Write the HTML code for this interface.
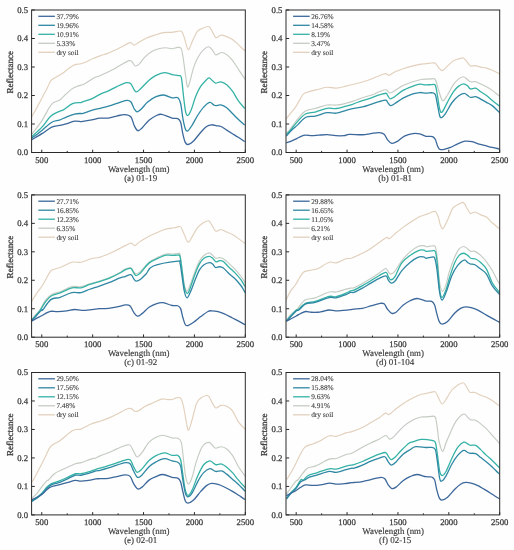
<!DOCTYPE html>
<html><head><meta charset="utf-8"><style>
html,body{margin:0;padding:0;background:#fefefe;}
svg{display:block;filter:blur(0.3px);}
text{font-family:"Liberation Serif",serif;fill:#3a3a3a;stroke:#3a3a3a;stroke-width:0.15px;text-rendering:geometricPrecision;}
.tk{font-size:8.7px;stroke-width:0.25px;}
.lb{font-size:9.05px;stroke-width:0.3px;}
.xl{font-size:8.9px;}
.cp{font-size:9.0px;}
.lg{stroke-width:0.1px;}
.lg{font-size:7.3px;}
</style></head><body>
<svg width="514" height="550" viewBox="0 0 514 550">
<clipPath id="cp0"><rect x="31.6" y="10.0" width="213.70000000000002" height="142.5"/></clipPath>
<g clip-path="url(#cp0)" fill="none" stroke-width="1.3" stroke-linejoin="round">
<path d="M31.82,116.70 C32.78,114.98 35.02,111.07 37.55,106.38 C40.08,101.68 44.75,92.86 47.00,88.52 C49.26,84.18 49.53,82.26 51.09,80.35 C52.65,78.44 54.30,78.35 56.34,77.08 C58.39,75.82 61.21,74.26 63.35,72.76 C65.49,71.26 67.24,69.46 69.18,68.09 C71.13,66.73 73.07,65.31 75.02,64.59 C76.96,63.87 78.91,64.26 80.86,63.77 C82.80,63.29 84.75,62.51 86.69,61.67 C88.64,60.84 90.31,59.73 92.53,58.75 C94.75,57.78 97.59,56.69 100.00,55.84 C102.41,54.98 104.67,54.50 107.00,53.62 C109.34,52.74 111.67,51.59 114.01,50.54 C116.34,49.49 118.33,48.62 121.01,47.32 C123.70,46.01 127.90,43.04 130.12,42.69 C132.33,42.34 132.92,45.26 134.32,45.21 C135.72,45.17 136.54,43.58 138.52,42.41 C140.51,41.25 143.54,39.42 146.23,38.21 C148.91,37.00 151.83,36.06 154.63,35.13 C157.43,34.19 160.14,33.07 163.04,32.61 C165.93,32.14 169.79,32.50 172.00,32.33 C174.21,32.16 174.76,31.77 176.32,31.60 C177.88,31.43 180.04,30.35 181.36,31.31 C182.68,32.27 183.11,34.31 184.24,37.35 C185.37,40.40 186.80,48.87 188.12,49.59 C189.44,50.31 190.64,44.67 192.16,41.67 C193.67,38.67 195.51,33.80 197.19,31.60 C198.87,29.39 200.31,29.27 202.23,28.43 C204.15,27.59 207.03,26.03 208.71,26.56 C210.39,27.08 211.11,29.75 212.31,31.60 C213.51,33.44 214.47,37.04 215.91,37.64 C217.35,38.24 219.15,35.36 220.95,35.19 C222.75,35.03 224.79,35.91 226.71,36.63 C228.63,37.35 230.55,38.19 232.47,39.51 C234.39,40.83 236.31,42.80 238.23,44.55 C240.15,46.30 242.69,48.94 243.98,50.02 C245.28,51.10 245.66,50.86 246.00,51.03" stroke="#e2d0bc" stroke-width="1.15"/>
<path d="M31.82,134.16 C33.50,131.90 39.05,124.93 41.92,120.57 C44.78,116.21 47.19,110.92 49.01,108.01 C50.83,105.10 51.03,104.44 52.83,103.10 C54.64,101.76 57.70,101.42 59.84,99.96 C61.99,98.50 63.74,96.17 65.68,94.36 C67.63,92.55 69.57,90.47 71.52,89.11 C73.46,87.74 75.41,86.96 77.35,86.19 C79.30,85.41 81.25,85.31 83.19,84.44 C85.14,83.56 87.08,82.10 89.03,80.93 C90.97,79.77 93.04,78.31 94.86,77.43 C96.69,76.56 97.98,76.50 100.00,75.68 C102.02,74.86 104.67,73.64 107.00,72.53 C109.34,71.42 111.67,70.31 114.01,69.03 C116.34,67.74 118.44,66.23 121.01,64.82 C123.58,63.42 127.55,61.09 129.42,60.62 C131.28,60.16 131.24,61.14 132.22,62.02 C133.20,62.91 134.13,65.60 135.30,65.95 C136.47,66.30 137.63,65.60 139.22,64.12 C140.81,62.65 142.72,59.22 144.82,57.12 C146.93,55.02 149.49,52.92 151.83,51.52 C154.16,50.12 156.50,49.35 158.83,48.72 C161.17,48.09 163.64,47.74 165.84,47.74 C168.03,47.74 170.01,48.77 172.00,48.72 C173.99,48.67 176.20,47.41 177.76,47.43 C179.32,47.46 180.40,46.71 181.36,48.87 C182.32,51.03 182.80,55.83 183.52,60.39 C184.24,64.95 184.91,71.80 185.68,76.23 C186.44,80.65 186.80,88.36 188.12,86.92 C189.44,85.48 191.96,72.49 193.60,67.59 C195.23,62.69 196.35,60.39 197.91,57.51 C199.47,54.63 201.15,52.11 202.95,50.31 C204.75,48.51 207.03,46.59 208.71,46.71 C210.39,46.83 211.83,49.66 213.03,51.03 C214.23,52.40 214.47,54.68 215.91,54.92 C217.35,55.16 219.87,52.52 221.67,52.47 C223.47,52.42 224.91,53.31 226.71,54.63 C228.51,55.95 230.55,57.99 232.47,60.39 C234.39,62.79 236.31,66.15 238.23,69.03 C240.15,71.91 242.69,75.75 243.98,77.67 C245.28,79.58 245.66,80.06 246.00,80.54" stroke="#c4ccc2" stroke-width="1.15"/>
<path d="M31.82,136.63 C33.50,135.04 38.78,130.52 41.92,127.12 C45.06,123.71 47.92,118.75 50.65,116.20 C53.38,113.65 56.11,112.93 58.29,111.83 C60.48,110.74 61.39,111.02 63.75,109.65 C66.12,108.29 69.61,104.83 72.48,103.65 C75.36,102.46 79.34,102.84 81.00,102.55 C82.66,102.27 80.66,102.58 82.43,101.96 C84.20,101.34 88.68,100.11 91.61,98.84 C94.54,97.56 97.20,95.65 100.00,94.31 C102.80,92.97 105.60,92.09 108.40,90.81 C111.21,89.52 113.77,87.96 116.81,86.60 C119.84,85.25 124.28,83.15 126.61,82.68 C128.95,82.21 129.53,82.56 130.82,83.80 C132.10,85.04 133.34,88.75 134.32,90.11 C135.30,91.46 135.65,92.16 136.70,91.93 C137.75,91.69 138.57,90.65 140.62,88.70 C142.68,86.76 146.46,82.46 149.03,80.23 C151.60,78.00 153.46,76.61 156.03,75.33 C158.60,74.05 161.77,72.65 164.44,72.53 C167.10,72.41 169.66,74.13 172.00,74.63 C174.34,75.13 176.92,75.00 178.48,75.51 C180.04,76.01 180.52,74.20 181.36,77.67 C182.20,81.13 182.80,90.54 183.52,96.28 C184.24,102.02 184.91,108.95 185.68,112.11 C186.44,115.28 187.16,115.76 188.12,115.28 C189.08,114.80 190.16,112.40 191.44,109.23 C192.71,106.07 194.20,100.12 195.75,96.28 C197.31,92.44 198.99,88.96 200.79,86.20 C202.59,83.44 205.16,81.11 206.55,79.72 C207.94,78.33 208.18,77.73 209.14,77.85 C210.10,77.97 211.23,79.58 212.31,80.44 C213.39,81.30 214.18,82.79 215.62,83.03 C217.06,83.27 219.10,81.59 220.95,81.88 C222.80,82.17 224.79,83.20 226.71,84.76 C228.63,86.32 230.55,88.60 232.47,91.24 C234.39,93.88 236.19,97.72 238.23,100.60 C240.27,103.47 243.62,107.19 244.70,108.51" stroke="#35b2a6" stroke-width="1.3"/>
<path d="M31.82,138.18 C33.50,136.88 38.60,133.06 41.92,130.39 C45.24,127.73 48.83,123.93 51.74,122.21 C54.65,120.48 57.02,120.84 59.38,120.02 C61.75,119.20 63.39,118.29 65.93,117.29 C68.48,116.29 72.16,114.65 74.67,114.02 C77.18,113.38 79.71,113.55 81.00,113.47 C82.29,113.39 80.66,114.04 82.43,113.53 C84.20,113.02 88.68,111.28 91.61,110.41 C94.54,109.54 97.20,109.01 100.00,108.32 C102.80,107.62 105.60,107.03 108.40,106.21 C111.21,105.40 113.77,104.39 116.81,103.41 C119.84,102.43 124.28,100.61 126.61,100.33 C128.95,100.05 129.53,100.28 130.82,101.73 C132.10,103.18 133.27,107.33 134.32,109.02 C135.37,110.70 135.95,111.82 137.12,111.82 C138.29,111.82 139.57,110.65 141.32,109.02 C143.07,107.38 145.18,104.07 147.63,102.01 C150.08,99.96 153.35,97.86 156.03,96.69 C158.72,95.52 161.07,94.82 163.74,95.01 C166.40,95.19 169.66,97.36 172.00,97.81 C174.34,98.26 176.32,96.77 177.76,97.72 C179.20,98.66 179.80,100.12 180.64,103.47 C181.48,106.83 182.03,113.67 182.80,117.87 C183.57,122.07 184.41,126.51 185.25,128.67 C186.08,130.83 186.68,131.43 187.84,130.83 C188.99,130.23 190.48,127.71 192.16,125.07 C193.84,122.43 195.99,117.99 197.91,114.99 C199.83,111.99 201.71,109.16 203.67,107.07 C205.64,104.99 208.04,102.83 209.72,102.47 C211.40,102.11 212.72,104.39 213.75,104.91 C214.78,105.44 214.71,105.63 215.91,105.63 C217.11,105.63 219.15,104.55 220.95,104.91 C222.75,105.27 224.79,106.35 226.71,107.79 C228.63,109.23 230.55,111.63 232.47,113.55 C234.39,115.47 236.19,117.39 238.23,119.31 C240.27,121.23 243.62,124.11 244.70,125.07" stroke="#2f88a3" stroke-width="1.3"/>
<path d="M31.82,139.73 C33.50,138.72 38.60,135.77 41.92,133.67 C45.24,131.57 48.83,128.48 51.74,127.12 C54.65,125.75 57.02,126.03 59.38,125.48 C61.75,124.93 63.39,124.57 65.93,123.84 C68.48,123.11 72.16,121.48 74.67,121.11 C77.18,120.75 79.71,121.61 81.00,121.66 C82.29,121.71 80.66,121.71 82.43,121.43 C84.20,121.15 88.68,120.51 91.61,119.96 C94.54,119.41 97.20,118.43 100.00,118.12 C102.80,117.81 105.60,118.47 108.40,118.12 C111.21,117.77 114.12,116.60 116.81,116.02 C119.49,115.44 122.18,114.50 124.51,114.62 C126.85,114.74 129.18,114.85 130.82,116.72 C132.45,118.59 133.15,123.49 134.32,125.82 C135.49,128.16 136.54,130.38 137.82,130.73 C139.11,131.08 140.16,129.68 142.02,127.93 C143.89,126.18 146.69,122.25 149.03,120.22 C151.36,118.19 153.93,116.72 156.03,115.74 C158.13,114.76 158.97,113.94 161.63,114.34 C164.30,114.74 169.31,117.41 172.00,118.12 C174.69,118.83 176.32,117.91 177.76,118.59 C179.20,119.27 179.80,119.67 180.64,122.19 C181.48,124.71 182.03,130.35 182.80,133.71 C183.57,137.07 184.36,140.55 185.25,142.35 C186.13,144.15 186.73,144.75 188.12,144.51 C189.52,144.27 191.48,142.95 193.60,140.91 C195.71,138.87 198.63,134.67 200.79,132.27 C202.95,129.87 204.75,127.76 206.55,126.51 C208.35,125.26 209.91,124.90 211.59,124.78 C213.27,124.66 215.07,125.50 216.63,125.79 C218.19,126.08 219.27,125.79 220.95,126.51 C222.63,127.23 224.79,128.91 226.71,130.11 C228.63,131.31 230.55,132.51 232.47,133.71 C234.39,134.91 236.19,135.99 238.23,137.31 C240.27,138.63 243.62,140.91 244.70,141.63" stroke="#3b679b" stroke-width="1.3"/>
</g>
<rect x="31.6" y="10.0" width="213.70000000000002" height="142.5" fill="none" stroke="#2a2a2a" stroke-width="1"/>
<line x1="31.6" y1="152.50" x2="34.800000000000004" y2="152.50" stroke="#2a2a2a" stroke-width="1"/>
<text x="28.0" y="155.30" text-anchor="end" class="tk">0.0</text>
<line x1="31.6" y1="124.00" x2="34.800000000000004" y2="124.00" stroke="#2a2a2a" stroke-width="1"/>
<text x="28.0" y="126.80" text-anchor="end" class="tk">0.1</text>
<line x1="31.6" y1="95.50" x2="34.800000000000004" y2="95.50" stroke="#2a2a2a" stroke-width="1"/>
<text x="28.0" y="98.30" text-anchor="end" class="tk">0.2</text>
<line x1="31.6" y1="67.00" x2="34.800000000000004" y2="67.00" stroke="#2a2a2a" stroke-width="1"/>
<text x="28.0" y="69.80" text-anchor="end" class="tk">0.3</text>
<line x1="31.6" y1="38.50" x2="34.800000000000004" y2="38.50" stroke="#2a2a2a" stroke-width="1"/>
<text x="28.0" y="41.30" text-anchor="end" class="tk">0.4</text>
<line x1="31.6" y1="10.00" x2="34.800000000000004" y2="10.00" stroke="#2a2a2a" stroke-width="1"/>
<text x="28.0" y="12.80" text-anchor="end" class="tk">0.5</text>
<line x1="41.78" y1="152.5" x2="41.78" y2="149.7" stroke="#2a2a2a" stroke-width="1"/>
<text x="41.78" y="162.50" text-anchor="middle" class="tk">500</text>
<line x1="67.22" y1="152.5" x2="67.22" y2="150.9" stroke="#2a2a2a" stroke-width="1"/>
<line x1="92.66" y1="152.5" x2="92.66" y2="149.7" stroke="#2a2a2a" stroke-width="1"/>
<text x="92.66" y="162.50" text-anchor="middle" class="tk">1000</text>
<line x1="118.10" y1="152.5" x2="118.10" y2="150.9" stroke="#2a2a2a" stroke-width="1"/>
<line x1="143.54" y1="152.5" x2="143.54" y2="149.7" stroke="#2a2a2a" stroke-width="1"/>
<text x="143.54" y="162.50" text-anchor="middle" class="tk">1500</text>
<line x1="168.98" y1="152.5" x2="168.98" y2="150.9" stroke="#2a2a2a" stroke-width="1"/>
<line x1="194.42" y1="152.5" x2="194.42" y2="149.7" stroke="#2a2a2a" stroke-width="1"/>
<text x="194.42" y="162.50" text-anchor="middle" class="tk">2000</text>
<line x1="219.86" y1="152.5" x2="219.86" y2="150.9" stroke="#2a2a2a" stroke-width="1"/>
<line x1="245.30" y1="152.5" x2="245.30" y2="149.7" stroke="#2a2a2a" stroke-width="1"/>
<text x="245.30" y="162.50" text-anchor="middle" class="tk">2500</text>
<text x="138.75" y="171.60" text-anchor="middle" class="xl">Wavelength (nm)</text>
<text x="140.75" y="180.50" text-anchor="middle" class="cp">(a) 01-19</text>
<text x="12.60" y="72.25" text-anchor="middle" class="lb" transform="rotate(-90 12.60 72.25)">Reflectance</text>
<line x1="38.30" y1="16.30" x2="54.90" y2="16.30" stroke="#3b679b" stroke-width="1.3"/>
<text x="56.40" y="18.80" class="lg">37.79%</text>
<line x1="38.30" y1="25.30" x2="54.90" y2="25.30" stroke="#2f88a3" stroke-width="1.3"/>
<text x="56.40" y="27.80" class="lg">19.96%</text>
<line x1="38.30" y1="34.30" x2="54.90" y2="34.30" stroke="#35b2a6" stroke-width="1.3"/>
<text x="56.40" y="36.80" class="lg">10.91%</text>
<line x1="38.30" y1="43.30" x2="54.90" y2="43.30" stroke="#c4ccc2" stroke-width="1.3"/>
<text x="56.40" y="45.80" class="lg">5.33%</text>
<line x1="38.30" y1="52.30" x2="54.90" y2="52.30" stroke="#e2d0bc" stroke-width="1.3"/>
<text x="56.40" y="54.80" class="lg">dry soil</text>
<clipPath id="cp1"><rect x="286.0" y="10.0" width="213.7" height="142.5"/></clipPath>
<g clip-path="url(#cp1)" fill="none" stroke-width="1.3" stroke-linejoin="round">
<path d="M286.00,119.03 C286.78,118.05 289.11,115.14 290.67,113.19 C292.23,111.25 293.88,109.49 295.34,107.35 C296.80,105.21 298.06,102.59 299.42,100.35 C300.79,98.11 301.86,95.39 303.51,93.93 C305.16,92.47 306.82,92.37 309.35,91.60 C311.88,90.82 315.77,89.98 318.68,89.26 C321.60,88.54 323.94,87.47 326.86,87.28 C329.77,87.08 333.00,88.29 336.19,88.09 C339.39,87.90 343.26,86.71 346.00,86.11 C348.74,85.51 349.87,85.19 352.61,84.51 C355.34,83.83 359.37,82.90 362.40,82.02 C365.44,81.14 368.01,80.27 370.81,79.22 C373.61,78.17 376.76,76.65 379.21,75.72 C381.67,74.79 383.88,73.69 385.52,73.62 C387.15,73.55 387.50,75.58 389.02,75.30 C390.54,75.02 392.29,73.04 394.62,71.94 C396.96,70.84 399.99,69.72 403.03,68.72 C406.06,67.71 409.80,66.68 412.83,65.91 C415.87,65.14 419.04,64.45 421.24,64.09 C423.43,63.73 424.25,63.93 426.00,63.75 C427.75,63.58 430.20,63.11 431.76,63.04 C433.32,62.96 434.16,62.48 435.36,63.32 C436.56,64.16 437.76,66.87 438.96,68.07 C440.16,69.27 441.12,70.88 442.56,70.52 C444.00,70.16 445.80,67.52 447.60,65.91 C449.39,64.31 451.55,62.03 453.35,60.88 C455.15,59.72 456.76,59.48 458.39,59.00 C460.02,58.52 461.82,57.68 463.14,58.00 C464.46,58.31 465.11,59.56 466.31,60.88 C467.51,62.20 468.90,65.12 470.34,65.91 C471.78,66.71 473.22,65.43 474.95,65.63 C476.68,65.82 478.79,66.66 480.71,67.07 C482.63,67.47 484.55,67.55 486.47,68.07 C488.39,68.60 490.19,69.35 492.23,70.23 C494.27,71.12 497.26,72.68 498.70,73.40 C500.14,74.12 500.50,74.36 500.86,74.55" stroke="#e2d0bc" stroke-width="1.15"/>
<path d="M286.35,132.68 C286.88,132.23 287.62,132.27 289.50,130.00 C291.39,127.73 294.95,122.22 297.67,119.03 C300.40,115.84 302.93,112.61 305.84,110.86 C308.76,109.11 311.68,109.49 315.18,108.52 C318.68,107.55 323.35,105.60 326.86,105.02 C330.36,104.44 333.00,105.31 336.19,105.02 C339.39,104.73 343.26,103.87 346.00,103.27 C348.74,102.67 349.87,102.33 352.61,101.41 C355.34,100.48 359.37,98.73 362.40,97.71 C365.44,96.70 368.01,96.31 370.81,95.33 C373.61,94.35 376.69,92.76 379.21,91.83 C381.74,90.89 384.19,89.54 385.94,89.73 C387.69,89.91 388.27,92.79 389.72,92.95 C391.17,93.11 392.40,91.95 394.62,90.71 C396.84,89.47 399.99,87.02 403.03,85.53 C406.06,84.03 409.80,82.75 412.83,81.74 C415.87,80.74 419.04,79.93 421.24,79.50 C423.43,79.07 424.25,79.26 426.00,79.16 C427.75,79.05 430.20,78.80 431.76,78.87 C433.32,78.94 434.28,77.91 435.36,79.59 C436.44,81.27 437.04,85.47 438.24,88.95 C439.44,92.43 441.00,99.51 442.56,100.47 C444.12,101.43 445.80,97.35 447.60,94.71 C449.39,92.07 451.55,87.22 453.35,84.63 C455.15,82.04 456.76,80.48 458.39,79.16 C460.02,77.84 461.70,76.71 463.14,76.71 C464.58,76.71 465.83,78.32 467.03,79.16 C468.23,80.00 468.90,81.32 470.34,81.75 C471.78,82.18 473.94,81.39 475.67,81.75 C477.40,82.11 478.91,83.07 480.71,83.91 C482.51,84.75 484.55,85.71 486.47,86.79 C488.39,87.87 490.19,88.95 492.23,90.39 C494.27,91.83 497.26,94.35 498.70,95.43 C500.14,96.51 500.50,96.63 500.86,96.87" stroke="#c4ccc2" stroke-width="1.15"/>
<path d="M286.35,134.37 C287.07,133.64 288.78,132.17 290.67,130.00 C292.56,127.83 295.14,124.07 297.67,121.36 C300.20,118.66 302.93,115.33 305.84,113.77 C308.76,112.22 311.68,112.94 315.18,112.02 C318.68,111.11 323.35,108.87 326.86,108.29 C330.36,107.70 333.00,108.87 336.19,108.52 C339.39,108.17 343.26,106.89 346.00,106.19 C348.74,105.48 349.87,105.23 352.61,104.28 C355.34,103.34 359.37,101.54 362.40,100.51 C365.44,99.49 368.01,99.07 370.81,98.13 C373.61,97.20 376.69,95.73 379.21,94.91 C381.74,94.09 384.54,93.16 385.94,93.23 C387.34,93.30 386.92,94.40 387.62,95.33 C388.32,96.26 388.97,98.60 390.14,98.83 C391.31,99.07 392.47,98.13 394.62,96.73 C396.77,95.33 399.99,92.18 403.03,90.43 C406.06,88.68 410.03,87.28 412.83,86.23 C415.63,85.18 417.64,84.34 419.84,84.12 C422.03,83.91 424.01,84.83 426.00,84.92 C427.99,85.00 430.20,84.56 431.76,84.63 C433.32,84.70 434.40,83.43 435.36,85.35 C436.32,87.27 436.80,92.19 437.52,96.15 C438.24,100.11 438.91,106.47 439.68,109.11 C440.44,111.74 440.80,113.18 442.12,111.98 C443.44,110.78 445.72,105.27 447.60,101.91 C449.47,98.55 451.55,94.42 453.35,91.83 C455.15,89.24 456.67,87.68 458.39,86.36 C460.12,85.04 462.16,83.96 463.72,83.91 C465.28,83.86 466.65,85.23 467.75,86.07 C468.85,86.91 469.02,88.59 470.34,88.95 C471.66,89.31 473.94,87.75 475.67,88.23 C477.40,88.71 478.91,90.63 480.71,91.83 C482.51,93.03 484.55,93.99 486.47,95.43 C488.39,96.87 490.19,98.79 492.23,100.47 C494.27,102.15 497.26,104.43 498.70,105.51 C500.14,106.59 500.50,106.71 500.86,106.95" stroke="#35b2a6" stroke-width="1.3"/>
<path d="M286.35,136.06 C287.27,135.05 289.95,131.87 291.84,130.00 C293.72,128.13 295.34,126.98 297.67,124.86 C300.01,122.74 302.93,118.74 305.84,117.28 C308.76,115.82 311.68,116.89 315.18,116.11 C318.68,115.33 323.35,113.09 326.86,112.61 C330.36,112.12 333.00,113.58 336.19,113.19 C339.39,112.80 343.26,111.02 346.00,110.27 C348.74,109.52 349.87,109.23 352.61,108.68 C355.34,108.12 359.37,107.66 362.40,106.96 C365.44,106.25 368.01,105.32 370.81,104.44 C373.61,103.55 376.69,102.33 379.21,101.63 C381.74,100.93 384.54,100.12 385.94,100.23 C387.34,100.35 386.87,101.45 387.62,102.33 C388.37,103.22 389.25,105.32 390.42,105.56 C391.59,105.79 392.52,104.97 394.62,103.74 C396.72,102.50 399.99,99.77 403.03,98.13 C406.06,96.50 410.03,94.86 412.83,93.93 C415.63,93.00 417.64,92.67 419.84,92.53 C422.03,92.39 423.89,93.06 426.00,93.11 C428.11,93.16 430.92,92.53 432.48,92.82 C434.04,93.11 434.52,92.82 435.36,94.84 C436.20,96.85 436.80,101.44 437.52,104.91 C438.24,108.39 439.01,113.60 439.68,115.71 C440.35,117.82 440.59,117.94 441.55,117.58 C442.51,117.22 443.71,116.02 445.44,113.55 C447.16,111.08 449.75,105.68 451.91,102.75 C454.07,99.83 456.35,97.55 458.39,95.99 C460.43,94.43 462.59,93.47 464.15,93.40 C465.71,93.32 466.67,94.88 467.75,95.56 C468.83,96.23 469.31,97.26 470.63,97.43 C471.95,97.60 473.99,96.28 475.67,96.56 C477.35,96.85 478.91,98.20 480.71,99.16 C482.51,100.12 484.55,101.24 486.47,102.32 C488.39,103.40 490.19,104.05 492.23,105.63 C494.27,107.22 497.26,110.51 498.70,111.82 C500.14,113.14 500.50,113.26 500.86,113.55" stroke="#2f88a3" stroke-width="1.3"/>
<path d="M286.35,142.82 C287.25,142.48 290.01,141.49 291.76,140.79 C293.51,140.08 295.28,139.32 296.83,138.59 C298.38,137.86 299.65,136.96 301.06,136.39 C302.46,135.83 303.45,135.32 305.28,135.21 C307.11,135.10 309.79,135.72 312.04,135.72 C314.30,135.72 316.27,135.38 318.80,135.21 C321.34,135.04 324.44,134.62 327.25,134.70 C330.07,134.79 332.89,135.55 335.70,135.72 C338.52,135.89 341.90,135.94 344.15,135.72 C346.41,135.49 346.18,134.53 349.23,134.37 C352.27,134.20 358.81,134.86 362.40,134.74 C366.00,134.61 368.01,133.97 370.81,133.62 C373.61,133.27 377.00,132.52 379.21,132.64 C381.43,132.75 382.72,133.11 384.12,134.32 C385.52,135.53 386.33,138.40 387.62,139.92 C388.90,141.44 390.19,143.19 391.82,143.42 C393.46,143.66 395.32,142.54 397.42,141.32 C399.53,140.11 401.86,137.42 404.43,136.14 C407.00,134.86 410.26,133.99 412.83,133.62 C415.40,133.25 417.64,133.45 419.84,133.90 C422.03,134.35 423.89,135.85 426.00,136.30 C428.11,136.75 430.92,136.06 432.48,136.59 C434.04,137.12 434.52,137.91 435.36,139.47 C436.20,141.03 436.80,144.31 437.52,145.95 C438.24,147.58 438.72,148.66 439.68,149.26 C440.64,149.86 441.48,149.86 443.28,149.54 C445.08,149.23 448.08,148.35 450.47,147.39 C452.87,146.43 455.27,144.82 457.67,143.79 C460.07,142.75 462.47,141.55 464.87,141.19 C467.27,140.83 469.67,141.15 472.07,141.63 C474.47,142.11 476.87,143.35 479.27,144.07 C481.67,144.79 484.31,145.39 486.47,145.95 C488.63,146.50 490.19,146.91 492.23,147.39 C494.27,147.87 497.26,148.51 498.70,148.82 C500.14,149.14 500.50,149.18 500.86,149.26" stroke="#3b679b" stroke-width="1.3"/>
</g>
<rect x="286.0" y="10.0" width="213.7" height="142.5" fill="none" stroke="#2a2a2a" stroke-width="1"/>
<line x1="286.0" y1="152.50" x2="289.2" y2="152.50" stroke="#2a2a2a" stroke-width="1"/>
<text x="282.4" y="155.30" text-anchor="end" class="tk">0.0</text>
<line x1="286.0" y1="124.00" x2="289.2" y2="124.00" stroke="#2a2a2a" stroke-width="1"/>
<text x="282.4" y="126.80" text-anchor="end" class="tk">0.1</text>
<line x1="286.0" y1="95.50" x2="289.2" y2="95.50" stroke="#2a2a2a" stroke-width="1"/>
<text x="282.4" y="98.30" text-anchor="end" class="tk">0.2</text>
<line x1="286.0" y1="67.00" x2="289.2" y2="67.00" stroke="#2a2a2a" stroke-width="1"/>
<text x="282.4" y="69.80" text-anchor="end" class="tk">0.3</text>
<line x1="286.0" y1="38.50" x2="289.2" y2="38.50" stroke="#2a2a2a" stroke-width="1"/>
<text x="282.4" y="41.30" text-anchor="end" class="tk">0.4</text>
<line x1="286.0" y1="10.00" x2="289.2" y2="10.00" stroke="#2a2a2a" stroke-width="1"/>
<text x="282.4" y="12.80" text-anchor="end" class="tk">0.5</text>
<line x1="296.18" y1="152.5" x2="296.18" y2="149.7" stroke="#2a2a2a" stroke-width="1"/>
<text x="296.18" y="162.50" text-anchor="middle" class="tk">500</text>
<line x1="321.62" y1="152.5" x2="321.62" y2="150.9" stroke="#2a2a2a" stroke-width="1"/>
<line x1="347.06" y1="152.5" x2="347.06" y2="149.7" stroke="#2a2a2a" stroke-width="1"/>
<text x="347.06" y="162.50" text-anchor="middle" class="tk">1000</text>
<line x1="372.50" y1="152.5" x2="372.50" y2="150.9" stroke="#2a2a2a" stroke-width="1"/>
<line x1="397.94" y1="152.5" x2="397.94" y2="149.7" stroke="#2a2a2a" stroke-width="1"/>
<text x="397.94" y="162.50" text-anchor="middle" class="tk">1500</text>
<line x1="423.38" y1="152.5" x2="423.38" y2="150.9" stroke="#2a2a2a" stroke-width="1"/>
<line x1="448.82" y1="152.5" x2="448.82" y2="149.7" stroke="#2a2a2a" stroke-width="1"/>
<text x="448.82" y="162.50" text-anchor="middle" class="tk">2000</text>
<line x1="474.26" y1="152.5" x2="474.26" y2="150.9" stroke="#2a2a2a" stroke-width="1"/>
<line x1="499.70" y1="152.5" x2="499.70" y2="149.7" stroke="#2a2a2a" stroke-width="1"/>
<text x="499.70" y="162.50" text-anchor="middle" class="tk">2500</text>
<text x="393.15" y="171.60" text-anchor="middle" class="xl">Wavelength (nm)</text>
<text x="395.15" y="180.50" text-anchor="middle" class="cp">(b) 01-81</text>
<text x="267.00" y="72.25" text-anchor="middle" class="lb" transform="rotate(-90 267.00 72.25)">Reflectance</text>
<line x1="293.10" y1="16.30" x2="309.70" y2="16.30" stroke="#3b679b" stroke-width="1.3"/>
<text x="311.20" y="18.80" class="lg">26.76%</text>
<line x1="293.10" y1="25.30" x2="309.70" y2="25.30" stroke="#2f88a3" stroke-width="1.3"/>
<text x="311.20" y="27.80" class="lg">14.58%</text>
<line x1="293.10" y1="34.30" x2="309.70" y2="34.30" stroke="#35b2a6" stroke-width="1.3"/>
<text x="311.20" y="36.80" class="lg">8.19%</text>
<line x1="293.10" y1="43.30" x2="309.70" y2="43.30" stroke="#c4ccc2" stroke-width="1.3"/>
<text x="311.20" y="45.80" class="lg">3.47%</text>
<line x1="293.10" y1="52.30" x2="309.70" y2="52.30" stroke="#e2d0bc" stroke-width="1.3"/>
<text x="311.20" y="54.80" class="lg">dry soil</text>
<clipPath id="cp2"><rect x="31.6" y="194.9" width="213.70000000000002" height="142.29999999999998"/></clipPath>
<g clip-path="url(#cp2)" fill="none" stroke-width="1.3" stroke-linejoin="round">
<path d="M31.00,302.53 C31.97,300.97 34.89,296.11 36.84,293.19 C38.78,290.27 40.44,288.62 42.67,285.02 C44.91,281.42 48.32,274.22 50.26,271.60 C52.21,268.97 52.50,270.04 54.35,269.26 C56.19,268.48 58.43,268.09 61.35,266.93 C64.27,265.76 68.55,263.04 71.86,262.26 C75.16,261.48 78.00,262.84 81.19,262.26 C84.39,261.67 88.08,259.55 91.00,258.75 C93.92,257.96 97.22,257.74 98.72,257.47 C100.22,257.19 98.39,257.68 100.00,257.11 C101.61,256.54 105.60,255.19 108.40,254.03 C111.21,252.86 114.01,251.51 116.81,250.11 C119.61,248.70 122.83,246.79 125.21,245.62 C127.60,244.46 129.51,243.10 131.10,243.10 C132.68,243.10 133.39,245.79 134.74,245.62 C136.09,245.46 137.07,243.57 139.22,242.12 C141.37,240.67 144.82,238.46 147.63,236.94 C150.43,235.42 153.23,234.25 156.03,233.02 C158.83,231.78 161.77,230.33 164.44,229.51 C167.10,228.70 170.02,228.48 172.00,228.11 C173.98,227.75 174.88,227.52 176.32,227.32 C177.76,227.11 179.32,225.68 180.64,226.88 C181.96,228.08 182.99,231.97 184.24,234.51 C185.49,237.06 186.80,241.78 188.12,242.14 C189.44,242.50 190.64,239.02 192.16,236.67 C193.67,234.32 195.51,230.24 197.19,228.04 C198.87,225.83 200.31,224.63 202.23,223.43 C204.15,222.23 207.03,220.43 208.71,220.84 C210.39,221.24 211.11,224.15 212.31,225.88 C213.51,227.60 214.47,230.60 215.91,231.20 C217.35,231.80 219.15,229.33 220.95,229.47 C222.75,229.62 224.79,231.23 226.71,232.07 C228.63,232.91 230.55,233.46 232.47,234.51 C234.39,235.57 236.31,237.03 238.23,238.40 C240.15,239.77 242.54,241.86 243.98,242.72 C245.42,243.58 246.38,243.44 246.86,243.58" stroke="#e2d0bc" stroke-width="1.15"/>
<path d="M31.53,319.84 C32.34,318.86 34.98,315.60 36.35,313.96 C37.72,312.32 38.21,312.29 39.75,310.00 C41.30,307.71 43.55,302.80 45.59,300.19 C47.63,297.59 49.58,295.76 52.01,294.36 C54.44,292.96 56.88,293.07 60.18,291.79 C63.49,290.51 68.35,287.51 71.86,286.65 C75.36,285.80 78.22,287.13 81.19,286.65 C84.17,286.18 86.68,284.73 89.73,283.79 C92.77,282.85 96.15,282.03 99.46,280.99 C102.76,279.95 106.15,278.98 109.57,277.56 C113.00,276.15 117.39,273.92 120.00,272.51 C122.61,271.09 123.41,269.89 125.21,269.08 C127.02,268.28 129.42,267.26 130.82,267.68 C132.22,268.10 132.73,270.60 133.62,271.60 C134.51,272.61 134.97,273.75 136.14,273.70 C137.31,273.66 138.47,273.25 140.62,271.32 C142.77,269.40 145.99,264.57 149.03,262.15 C152.06,259.74 156.03,258.18 158.83,256.83 C161.63,255.47 163.64,254.49 165.84,254.03 C168.03,253.56 170.01,254.09 172.00,254.03 C173.99,253.97 176.43,253.61 177.76,253.66 C179.09,253.72 179.26,251.70 180.00,254.36 C180.74,257.02 181.45,264.53 182.18,269.62 C182.91,274.70 183.54,281.28 184.36,284.88 C185.18,288.47 185.99,291.56 187.08,291.20 C188.17,290.84 189.54,286.11 190.90,282.70 C192.26,279.28 193.81,274.34 195.26,270.71 C196.71,267.08 198.17,263.44 199.62,260.90 C201.07,258.36 202.37,256.78 203.98,255.45 C205.58,254.12 207.80,252.93 209.24,252.92 C210.69,252.90 211.59,254.46 212.65,255.35 C213.70,256.24 214.43,257.90 215.56,258.27 C216.70,258.64 218.16,257.51 219.46,257.59 C220.75,257.67 221.73,257.75 223.35,258.75 C224.97,259.76 227.24,261.84 229.18,263.62 C231.13,265.40 233.07,267.35 235.02,269.46 C236.96,271.56 239.23,274.16 240.86,276.26 C242.48,278.37 243.86,280.89 244.75,282.10 C245.64,283.32 245.96,283.32 246.21,283.56" stroke="#c4ccc2" stroke-width="1.15"/>
<path d="M31.53,320.20 C32.34,319.31 34.88,316.55 36.35,314.85 C37.81,313.15 38.70,312.33 40.34,310.00 C41.98,307.67 44.23,303.31 46.18,300.89 C48.12,298.48 49.68,296.85 52.01,295.53 C54.35,294.20 56.88,294.24 60.18,292.96 C63.49,291.67 68.35,288.68 71.86,287.82 C75.36,286.96 78.22,288.39 81.19,287.82 C84.17,287.25 86.68,285.46 89.73,284.41 C92.77,283.36 96.15,282.58 99.46,281.53 C102.76,280.48 106.15,279.52 109.57,278.11 C113.00,276.70 117.39,274.44 120.00,273.05 C122.61,271.66 123.41,270.56 125.21,269.78 C127.02,269.00 129.42,267.89 130.82,268.38 C132.22,268.87 132.73,271.53 133.62,272.72 C134.51,273.91 134.97,275.53 136.14,275.53 C137.31,275.53 138.47,274.79 140.62,272.72 C142.77,270.66 145.99,265.59 149.03,263.13 C152.06,260.67 156.03,259.28 158.83,257.95 C161.63,256.62 163.64,255.57 165.84,255.15 C168.03,254.73 170.01,255.44 172.00,255.43 C173.99,255.42 176.43,254.92 177.76,255.10 C179.09,255.29 179.26,253.85 180.00,256.54 C180.74,259.23 181.45,266.17 182.18,271.25 C182.91,276.34 183.45,283.37 184.36,287.06 C185.27,290.74 186.54,293.56 187.63,293.38 C188.72,293.20 189.63,289.29 190.90,285.97 C192.17,282.64 193.81,277.16 195.26,273.43 C196.71,269.71 198.17,266.17 199.62,263.62 C201.07,261.08 202.37,259.39 203.98,258.17 C205.58,256.96 207.80,256.31 209.24,256.32 C210.69,256.34 211.51,257.34 212.65,258.27 C213.78,259.19 214.92,261.46 216.05,261.87 C217.19,262.27 218.24,260.77 219.46,260.70 C220.67,260.64 221.73,260.34 223.35,261.48 C224.97,262.61 227.24,265.61 229.18,267.51 C231.13,269.41 233.07,270.83 235.02,272.86 C236.96,274.89 239.23,277.48 240.86,279.67 C242.48,281.86 243.86,284.70 244.75,285.99 C245.64,287.29 245.96,287.21 246.21,287.45" stroke="#35b2a6" stroke-width="1.3"/>
<path d="M31.53,320.55 C32.34,319.75 34.65,317.52 36.35,315.74 C38.04,313.96 40.64,310.82 41.69,309.86 C42.75,308.90 41.15,311.71 42.67,310.00 C44.20,308.29 47.93,301.73 50.84,299.61 C53.76,297.49 56.68,298.44 60.18,297.28 C63.68,296.11 68.35,293.39 71.86,292.61 C75.36,291.83 78.22,293.17 81.19,292.61 C84.17,292.05 86.68,290.32 89.73,289.24 C92.77,288.16 96.15,287.27 99.46,286.12 C102.76,284.98 106.15,283.75 109.57,282.39 C113.00,281.03 117.39,278.93 120.00,277.95 C122.61,276.97 123.41,277.05 125.21,276.51 C127.02,275.96 129.42,274.33 130.82,274.68 C132.22,275.04 132.73,277.53 133.62,278.61 C134.51,279.68 134.97,281.01 136.14,281.13 C137.31,281.25 138.94,280.54 140.62,279.31 C142.30,278.07 144.12,275.92 146.23,273.70 C148.33,271.49 147.97,268.09 153.23,266.00 C158.49,263.91 173.30,261.63 177.76,261.15 C182.22,260.66 179.26,260.40 180.00,263.08 C180.74,265.76 181.45,272.52 182.18,277.25 C182.91,281.97 183.54,287.97 184.36,291.42 C185.18,294.87 185.99,298.05 187.08,297.96 C188.17,297.87 189.54,293.96 190.90,290.87 C192.26,287.78 193.81,282.97 195.26,279.43 C196.71,275.89 198.17,272.07 199.62,269.62 C201.07,267.17 202.29,265.88 203.98,264.71 C205.66,263.55 208.28,262.75 209.73,262.65 C211.17,262.54 211.67,263.29 212.65,264.11 C213.62,264.92 214.43,267.07 215.56,267.51 C216.70,267.95 218.16,266.65 219.46,266.73 C220.75,266.81 221.73,266.81 223.35,268.00 C224.97,269.18 227.24,272.05 229.18,273.83 C231.13,275.62 233.07,276.75 235.02,278.70 C236.96,280.64 239.23,283.32 240.86,285.51 C242.48,287.69 243.86,290.45 244.75,291.83 C245.64,293.21 245.96,293.45 246.21,293.77" stroke="#2f88a3" stroke-width="1.3"/>
<path d="M31.53,321.09 C32.34,320.64 34.65,319.31 36.35,318.42 C38.04,317.52 40.06,316.63 41.69,315.74 C43.33,314.85 44.66,313.81 46.15,313.07 C47.63,312.33 48.67,311.52 50.60,311.29 C52.53,311.05 55.06,311.70 57.73,311.64 C60.41,311.58 63.82,311.29 66.64,310.93 C69.47,310.57 72.14,309.59 74.66,309.50 C77.19,309.42 79.27,310.34 81.79,310.40 C84.32,310.46 86.99,310.16 89.81,309.86 C92.63,309.56 97.02,308.80 98.72,308.61 C100.42,308.42 98.39,308.78 100.00,308.72 C101.61,308.67 105.60,308.61 108.40,308.30 C111.21,308.00 113.89,307.46 116.81,306.90 C119.73,306.34 123.70,305.11 125.91,304.94 C128.13,304.78 128.83,304.71 130.12,305.92 C131.40,307.14 132.38,310.52 133.62,312.23 C134.86,313.93 136.14,315.91 137.54,316.15 C138.94,316.38 140.11,315.10 142.02,313.63 C143.94,312.16 146.69,308.96 149.03,307.32 C151.36,305.69 153.70,304.59 156.03,303.82 C158.37,303.05 160.37,302.42 163.04,302.70 C165.70,302.98 169.55,304.99 172.00,305.50 C174.45,306.01 176.32,305.23 177.76,305.75 C179.20,306.27 179.80,306.71 180.64,308.63 C181.48,310.55 182.03,314.63 182.80,317.27 C183.57,319.91 184.41,323.08 185.25,324.47 C186.08,325.86 186.44,325.98 187.84,325.62 C189.23,325.26 191.44,323.82 193.60,322.31 C195.75,320.80 198.39,318.35 200.79,316.55 C203.19,314.75 206.19,312.47 207.99,311.51 C209.79,310.55 209.91,310.79 211.59,310.79 C213.27,310.79 216.03,311.03 218.07,311.51 C220.11,311.99 221.43,312.59 223.83,313.67 C226.23,314.75 230.07,316.79 232.47,317.99 C234.87,319.19 236.19,319.79 238.23,320.87 C240.27,321.95 243.26,323.68 244.70,324.47 C246.14,325.26 246.50,325.43 246.86,325.62" stroke="#3b679b" stroke-width="1.3"/>
</g>
<rect x="31.6" y="194.9" width="213.70000000000002" height="142.29999999999998" fill="none" stroke="#2a2a2a" stroke-width="1"/>
<line x1="31.6" y1="337.20" x2="34.800000000000004" y2="337.20" stroke="#2a2a2a" stroke-width="1"/>
<text x="28.0" y="340.00" text-anchor="end" class="tk">0.0</text>
<line x1="31.6" y1="308.74" x2="34.800000000000004" y2="308.74" stroke="#2a2a2a" stroke-width="1"/>
<text x="28.0" y="311.54" text-anchor="end" class="tk">0.1</text>
<line x1="31.6" y1="280.28" x2="34.800000000000004" y2="280.28" stroke="#2a2a2a" stroke-width="1"/>
<text x="28.0" y="283.08" text-anchor="end" class="tk">0.2</text>
<line x1="31.6" y1="251.82" x2="34.800000000000004" y2="251.82" stroke="#2a2a2a" stroke-width="1"/>
<text x="28.0" y="254.62" text-anchor="end" class="tk">0.3</text>
<line x1="31.6" y1="223.36" x2="34.800000000000004" y2="223.36" stroke="#2a2a2a" stroke-width="1"/>
<text x="28.0" y="226.16" text-anchor="end" class="tk">0.4</text>
<line x1="31.6" y1="194.90" x2="34.800000000000004" y2="194.90" stroke="#2a2a2a" stroke-width="1"/>
<text x="28.0" y="197.70" text-anchor="end" class="tk">0.5</text>
<line x1="41.78" y1="337.2" x2="41.78" y2="334.4" stroke="#2a2a2a" stroke-width="1"/>
<text x="41.78" y="347.20" text-anchor="middle" class="tk">500</text>
<line x1="67.22" y1="337.2" x2="67.22" y2="335.59999999999997" stroke="#2a2a2a" stroke-width="1"/>
<line x1="92.66" y1="337.2" x2="92.66" y2="334.4" stroke="#2a2a2a" stroke-width="1"/>
<text x="92.66" y="347.20" text-anchor="middle" class="tk">1000</text>
<line x1="118.10" y1="337.2" x2="118.10" y2="335.59999999999997" stroke="#2a2a2a" stroke-width="1"/>
<line x1="143.54" y1="337.2" x2="143.54" y2="334.4" stroke="#2a2a2a" stroke-width="1"/>
<text x="143.54" y="347.20" text-anchor="middle" class="tk">1500</text>
<line x1="168.98" y1="337.2" x2="168.98" y2="335.59999999999997" stroke="#2a2a2a" stroke-width="1"/>
<line x1="194.42" y1="337.2" x2="194.42" y2="334.4" stroke="#2a2a2a" stroke-width="1"/>
<text x="194.42" y="347.20" text-anchor="middle" class="tk">2000</text>
<line x1="219.86" y1="337.2" x2="219.86" y2="335.59999999999997" stroke="#2a2a2a" stroke-width="1"/>
<line x1="245.30" y1="337.2" x2="245.30" y2="334.4" stroke="#2a2a2a" stroke-width="1"/>
<text x="245.30" y="347.20" text-anchor="middle" class="tk">2500</text>
<text x="138.75" y="356.30" text-anchor="middle" class="xl">Wavelength (nm)</text>
<text x="140.75" y="365.20" text-anchor="middle" class="cp">(c) 01-92</text>
<text x="12.60" y="257.05" text-anchor="middle" class="lb" transform="rotate(-90 12.60 257.05)">Reflectance</text>
<line x1="38.30" y1="201.20" x2="54.90" y2="201.20" stroke="#3b679b" stroke-width="1.3"/>
<text x="56.40" y="203.70" class="lg">27.71%</text>
<line x1="38.30" y1="210.20" x2="54.90" y2="210.20" stroke="#2f88a3" stroke-width="1.3"/>
<text x="56.40" y="212.70" class="lg">16.85%</text>
<line x1="38.30" y1="219.20" x2="54.90" y2="219.20" stroke="#35b2a6" stroke-width="1.3"/>
<text x="56.40" y="221.70" class="lg">12.23%</text>
<line x1="38.30" y1="228.20" x2="54.90" y2="228.20" stroke="#c4ccc2" stroke-width="1.3"/>
<text x="56.40" y="230.70" class="lg">6.35%</text>
<line x1="38.30" y1="237.20" x2="54.90" y2="237.20" stroke="#e2d0bc" stroke-width="1.3"/>
<text x="56.40" y="239.70" class="lg">dry soil</text>
<clipPath id="cp3"><rect x="286.0" y="194.9" width="213.7" height="142.29999999999998"/></clipPath>
<g clip-path="url(#cp3)" fill="none" stroke-width="1.3" stroke-linejoin="round">
<path d="M286.00,300.19 C286.78,298.64 289.11,293.39 290.67,290.86 C292.23,288.33 293.88,287.16 295.34,285.02 C296.80,282.88 298.06,280.16 299.42,278.02 C300.79,275.88 301.86,273.44 303.51,272.18 C305.16,270.91 307.01,271.01 309.35,270.43 C311.68,269.84 314.21,270.04 317.52,268.68 C320.82,267.32 326.08,263.23 329.19,262.26 C332.30,261.28 333.39,263.42 336.19,262.84 C339.00,262.26 343.59,259.49 346.00,258.75 C348.41,258.02 349.29,258.71 350.62,258.44 C351.96,258.16 352.04,257.96 354.00,257.11 C355.96,256.26 359.60,254.77 362.40,253.33 C365.21,251.88 368.01,250.22 370.81,248.42 C373.61,246.63 376.60,244.36 379.21,242.54 C381.83,240.72 384.82,238.15 386.50,237.50 C388.18,236.84 387.95,239.18 389.30,238.62 C390.65,238.06 392.33,236.00 394.62,234.14 C396.91,232.27 400.46,229.35 403.03,227.41 C405.60,225.47 407.46,224.19 410.03,222.51 C412.60,220.83 415.77,218.66 418.44,217.33 C421.10,216.00 424.02,215.29 426.00,214.53 C427.98,213.76 428.76,213.21 430.32,212.72 C431.88,212.22 434.04,210.84 435.36,211.56 C436.68,212.28 437.40,214.80 438.24,217.04 C439.08,219.27 439.61,223.03 440.40,224.95 C441.19,226.87 441.79,229.39 442.99,228.55 C444.19,227.71 445.99,223.27 447.60,219.91 C449.20,216.56 450.95,210.92 452.63,208.40 C454.31,205.88 455.92,205.81 457.67,204.80 C459.42,203.79 461.70,201.99 463.14,202.35 C464.58,202.71 465.11,205.11 466.31,206.96 C467.51,208.80 468.90,212.60 470.34,213.44 C471.78,214.28 473.22,211.76 474.95,212.00 C476.68,212.24 478.79,214.04 480.71,214.88 C482.63,215.72 484.55,215.72 486.47,217.04 C488.39,218.35 490.19,220.92 492.23,222.79 C494.27,224.67 497.26,227.06 498.70,228.26 C500.14,229.46 500.50,229.70 500.86,229.99" stroke="#e2d0bc" stroke-width="1.15"/>
<path d="M286.50,320.31 C287.19,319.38 288.96,316.41 290.62,314.69 C292.29,312.97 294.16,312.42 296.51,310.00 C298.85,307.58 301.56,302.22 304.68,300.19 C307.79,298.17 311.10,299.22 315.18,297.86 C319.27,296.50 325.69,293.00 329.19,292.02 C332.69,291.05 333.39,292.51 336.19,292.02 C339.00,291.54 343.59,289.77 346.00,289.11 C348.41,288.44 349.29,288.29 350.62,288.06 C351.96,287.83 352.04,288.47 354.00,287.71 C355.96,286.95 359.60,285.03 362.40,283.51 C365.21,281.99 368.01,280.36 370.81,278.61 C373.61,276.86 376.76,274.68 379.21,273.00 C381.67,271.32 384.00,268.75 385.52,268.52 C387.04,268.29 387.50,270.67 388.32,271.60 C389.14,272.54 389.37,274.12 390.42,274.12 C391.47,274.12 392.75,273.79 394.62,271.60 C396.49,269.42 399.06,264.31 401.63,261.03 C404.19,257.75 407.23,254.38 410.03,251.93 C412.83,249.47 416.10,247.37 418.44,246.32 C420.77,245.27 422.78,245.55 424.04,245.62 C425.30,245.69 424.71,246.68 426.00,246.75 C427.29,246.82 430.20,246.03 431.76,246.03 C433.32,246.03 434.40,244.47 435.36,246.75 C436.32,249.03 436.80,253.71 437.52,259.71 C438.24,265.70 438.84,277.44 439.68,282.72 C440.52,287.99 441.48,291.11 442.56,291.35 C443.64,291.59 445.08,287.27 446.16,284.16 C447.24,281.04 447.60,277.22 449.04,272.67 C450.47,268.11 453.11,260.79 454.79,256.83 C456.47,252.87 457.63,250.64 459.11,248.91 C460.60,247.18 462.28,246.46 463.72,246.46 C465.16,246.46 466.60,248.09 467.75,248.91 C468.90,249.73 469.43,250.95 470.63,251.36 C471.83,251.77 473.27,250.69 474.95,251.36 C476.63,252.03 478.79,253.64 480.71,255.39 C482.63,257.14 484.55,259.35 486.47,261.87 C488.39,264.39 490.19,267.03 492.23,270.51 C494.27,273.98 497.26,280.44 498.70,282.72 C500.14,284.99 500.50,283.92 500.86,284.16" stroke="#c4ccc2" stroke-width="1.15"/>
<path d="M286.50,320.88 C287.19,320.06 289.00,317.81 290.62,316.00 C292.25,314.19 295.08,311.00 296.25,310.00 C297.42,309.00 296.07,311.15 297.67,310.00 C299.27,308.85 302.93,304.55 305.84,303.11 C308.76,301.67 311.29,302.47 315.18,301.36 C319.07,300.25 325.69,297.24 329.19,296.46 C332.69,295.68 333.39,297.24 336.19,296.69 C339.00,296.15 343.59,294.16 346.00,293.19 C348.41,292.22 349.29,291.39 350.62,290.88 C351.96,290.36 352.04,290.97 354.00,290.09 C355.96,289.22 359.60,287.18 362.40,285.61 C365.21,284.05 368.01,282.39 370.81,280.71 C373.61,279.03 376.69,276.93 379.21,275.53 C381.74,274.12 384.42,272.14 385.94,272.30 C387.46,272.47 387.53,275.27 388.32,276.51 C389.11,277.74 389.65,279.61 390.70,279.73 C391.75,279.84 392.80,279.97 394.62,277.21 C396.44,274.44 399.06,266.76 401.63,263.13 C404.19,259.50 407.23,257.53 410.03,255.43 C412.83,253.33 416.10,251.41 418.44,250.53 C420.77,249.64 422.78,249.97 424.04,250.11 C425.30,250.24 424.71,251.25 426.00,251.36 C427.29,251.47 430.20,250.71 431.76,250.78 C433.32,250.85 434.40,249.34 435.36,251.79 C436.32,254.24 436.80,259.11 437.52,265.47 C438.24,271.82 438.91,284.59 439.68,289.91 C440.44,295.24 441.04,297.52 442.12,297.40 C443.20,297.28 444.88,292.60 446.16,289.19 C447.43,285.79 448.32,281.42 449.75,276.98 C451.19,272.55 453.23,266.19 454.79,262.59 C456.35,258.99 457.63,256.95 459.11,255.39 C460.60,253.83 462.28,253.23 463.72,253.23 C465.16,253.23 466.60,254.55 467.75,255.39 C468.90,256.23 469.31,257.67 470.63,258.27 C471.95,258.87 473.99,258.27 475.67,258.99 C477.35,259.71 478.91,260.91 480.71,262.59 C482.51,264.27 484.55,265.71 486.47,269.07 C488.39,272.42 490.19,279.00 492.23,282.72 C494.27,286.43 497.26,289.67 498.70,291.35 C500.14,293.03 500.50,292.55 500.86,292.79" stroke="#35b2a6" stroke-width="1.3"/>
<path d="M286.50,321.25 C287.19,320.50 289.00,318.47 290.62,316.75 C292.25,315.03 294.88,312.06 296.25,310.94 C297.62,309.81 297.24,311.17 298.84,310.00 C300.44,308.83 303.12,305.21 305.84,303.93 C308.57,302.65 311.29,303.35 315.18,302.30 C319.07,301.25 325.69,298.37 329.19,297.63 C332.69,296.89 333.39,298.37 336.19,297.86 C339.00,297.35 343.59,295.51 346.00,294.59 C348.41,293.68 349.29,292.75 350.62,292.38 C351.96,292.00 352.04,293.04 354.00,292.33 C355.96,291.63 359.60,289.67 362.40,288.13 C365.21,286.59 368.01,284.72 370.81,283.09 C373.61,281.46 376.69,279.54 379.21,278.33 C381.74,277.11 384.42,275.53 385.94,275.81 C387.46,276.09 387.46,278.79 388.32,280.01 C389.18,281.22 389.95,282.97 391.12,283.09 C392.29,283.21 393.57,282.75 395.32,280.71 C397.07,278.67 399.18,273.88 401.63,270.84 C404.08,267.79 407.23,264.72 410.03,262.43 C412.83,260.14 416.10,258.00 418.44,257.11 C420.77,256.22 422.78,256.92 424.04,257.11 C425.30,257.30 424.71,258.27 426.00,258.27 C427.29,258.27 430.32,257.16 431.76,257.12 C433.20,257.07 433.80,256.11 434.64,257.98 C435.48,259.85 435.96,262.54 436.80,268.35 C437.64,274.15 438.79,287.52 439.68,292.79 C440.56,298.07 441.04,300.11 442.12,299.99 C443.20,299.87 444.52,296.15 446.16,292.07 C447.79,288.00 449.99,279.98 451.91,275.54 C453.83,271.11 455.63,268.06 457.67,265.47 C459.71,262.88 462.47,260.48 464.15,260.00 C465.83,259.52 466.67,261.92 467.75,262.59 C468.83,263.26 469.43,263.67 470.63,264.03 C471.83,264.39 473.27,263.91 474.95,264.75 C476.63,265.59 478.79,267.51 480.71,269.07 C482.63,270.63 484.55,271.35 486.47,274.11 C488.39,276.86 490.19,282.36 492.23,285.60 C494.27,288.83 497.26,291.95 498.70,293.51 C500.14,295.07 500.50,294.71 500.86,294.95" stroke="#2f88a3" stroke-width="1.3"/>
<path d="M286.50,321.25 C287.19,320.88 289.00,319.88 290.62,319.00 C292.25,318.12 294.53,316.94 296.25,316.00 C297.97,315.06 299.38,314.12 300.94,313.38 C302.50,312.62 303.91,311.69 305.62,311.50 C307.34,311.31 309.22,312.12 311.25,312.25 C313.28,312.38 315.94,312.38 317.81,312.25 C319.69,312.12 320.62,311.88 322.50,311.50 C324.38,311.12 326.88,310.09 329.06,310.00 C331.25,309.91 333.28,310.88 335.62,310.94 C337.97,311.00 340.62,310.59 343.12,310.38 C345.62,310.16 348.81,309.83 350.62,309.62 C352.44,309.42 352.04,309.36 354.00,309.14 C355.96,308.92 359.60,308.84 362.40,308.30 C365.21,307.77 368.01,306.72 370.81,305.92 C373.61,305.13 377.00,303.89 379.21,303.54 C381.43,303.19 382.72,302.84 384.12,303.82 C385.52,304.80 386.33,307.84 387.62,309.42 C388.90,311.01 390.42,312.88 391.82,313.35 C393.22,313.81 394.16,313.58 396.02,312.23 C397.89,310.87 400.69,307.14 403.03,305.22 C405.36,303.31 407.70,301.86 410.03,300.74 C412.37,299.62 414.37,298.45 417.04,298.50 C419.70,298.54 423.55,300.53 426.00,301.02 C428.45,301.51 430.32,300.76 431.76,301.43 C433.20,302.10 433.80,302.99 434.64,305.03 C435.48,307.07 436.03,310.91 436.80,313.67 C437.57,316.43 438.36,319.84 439.25,321.59 C440.13,323.34 440.73,324.18 442.12,324.18 C443.52,324.18 445.48,323.46 447.60,321.59 C449.71,319.72 452.63,315.16 454.79,312.95 C456.95,310.74 458.75,309.35 460.55,308.34 C462.35,307.33 463.67,306.97 465.59,306.90 C467.51,306.83 470.03,307.38 472.07,307.91 C474.11,308.44 475.43,308.87 477.83,310.07 C480.23,311.27 484.07,313.72 486.47,315.11 C488.87,316.50 490.19,317.29 492.23,318.42 C494.27,319.55 497.26,321.11 498.70,321.88 C500.14,322.64 500.50,322.84 500.86,323.03" stroke="#3b679b" stroke-width="1.3"/>
</g>
<rect x="286.0" y="194.9" width="213.7" height="142.29999999999998" fill="none" stroke="#2a2a2a" stroke-width="1"/>
<line x1="286.0" y1="337.20" x2="289.2" y2="337.20" stroke="#2a2a2a" stroke-width="1"/>
<text x="282.4" y="340.00" text-anchor="end" class="tk">0.0</text>
<line x1="286.0" y1="308.74" x2="289.2" y2="308.74" stroke="#2a2a2a" stroke-width="1"/>
<text x="282.4" y="311.54" text-anchor="end" class="tk">0.1</text>
<line x1="286.0" y1="280.28" x2="289.2" y2="280.28" stroke="#2a2a2a" stroke-width="1"/>
<text x="282.4" y="283.08" text-anchor="end" class="tk">0.2</text>
<line x1="286.0" y1="251.82" x2="289.2" y2="251.82" stroke="#2a2a2a" stroke-width="1"/>
<text x="282.4" y="254.62" text-anchor="end" class="tk">0.3</text>
<line x1="286.0" y1="223.36" x2="289.2" y2="223.36" stroke="#2a2a2a" stroke-width="1"/>
<text x="282.4" y="226.16" text-anchor="end" class="tk">0.4</text>
<line x1="286.0" y1="194.90" x2="289.2" y2="194.90" stroke="#2a2a2a" stroke-width="1"/>
<text x="282.4" y="197.70" text-anchor="end" class="tk">0.5</text>
<line x1="296.18" y1="337.2" x2="296.18" y2="334.4" stroke="#2a2a2a" stroke-width="1"/>
<text x="296.18" y="347.20" text-anchor="middle" class="tk">500</text>
<line x1="321.62" y1="337.2" x2="321.62" y2="335.59999999999997" stroke="#2a2a2a" stroke-width="1"/>
<line x1="347.06" y1="337.2" x2="347.06" y2="334.4" stroke="#2a2a2a" stroke-width="1"/>
<text x="347.06" y="347.20" text-anchor="middle" class="tk">1000</text>
<line x1="372.50" y1="337.2" x2="372.50" y2="335.59999999999997" stroke="#2a2a2a" stroke-width="1"/>
<line x1="397.94" y1="337.2" x2="397.94" y2="334.4" stroke="#2a2a2a" stroke-width="1"/>
<text x="397.94" y="347.20" text-anchor="middle" class="tk">1500</text>
<line x1="423.38" y1="337.2" x2="423.38" y2="335.59999999999997" stroke="#2a2a2a" stroke-width="1"/>
<line x1="448.82" y1="337.2" x2="448.82" y2="334.4" stroke="#2a2a2a" stroke-width="1"/>
<text x="448.82" y="347.20" text-anchor="middle" class="tk">2000</text>
<line x1="474.26" y1="337.2" x2="474.26" y2="335.59999999999997" stroke="#2a2a2a" stroke-width="1"/>
<line x1="499.70" y1="337.2" x2="499.70" y2="334.4" stroke="#2a2a2a" stroke-width="1"/>
<text x="499.70" y="347.20" text-anchor="middle" class="tk">2500</text>
<text x="393.15" y="356.30" text-anchor="middle" class="xl">Wavelength (nm)</text>
<text x="395.15" y="365.20" text-anchor="middle" class="cp">(d) 01-104</text>
<text x="267.00" y="257.05" text-anchor="middle" class="lb" transform="rotate(-90 267.00 257.05)">Reflectance</text>
<line x1="293.10" y1="201.20" x2="309.70" y2="201.20" stroke="#3b679b" stroke-width="1.3"/>
<text x="311.20" y="203.70" class="lg">29.88%</text>
<line x1="293.10" y1="210.20" x2="309.70" y2="210.20" stroke="#2f88a3" stroke-width="1.3"/>
<text x="311.20" y="212.70" class="lg">16.65%</text>
<line x1="293.10" y1="219.20" x2="309.70" y2="219.20" stroke="#35b2a6" stroke-width="1.3"/>
<text x="311.20" y="221.70" class="lg">11.05%</text>
<line x1="293.10" y1="228.20" x2="309.70" y2="228.20" stroke="#c4ccc2" stroke-width="1.3"/>
<text x="311.20" y="230.70" class="lg">6.21%</text>
<line x1="293.10" y1="237.20" x2="309.70" y2="237.20" stroke="#e2d0bc" stroke-width="1.3"/>
<text x="311.20" y="239.70" class="lg">dry soil</text>
<clipPath id="cp4"><rect x="31.6" y="372.5" width="213.70000000000002" height="142.39999999999998"/></clipPath>
<g clip-path="url(#cp4)" fill="none" stroke-width="1.3" stroke-linejoin="round">
<path d="M31.56,481.73 C31.85,481.44 31.87,482.51 33.33,480.00 C34.80,477.49 38.20,470.86 40.34,466.69 C42.48,462.53 44.42,458.42 46.18,455.02 C47.93,451.61 48.51,448.70 50.84,446.26 C53.18,443.83 56.68,442.96 60.18,440.43 C63.68,437.90 68.94,432.94 71.86,431.09 C74.77,429.24 76.14,429.67 77.69,429.34 C79.25,429.01 78.98,429.98 81.19,429.11 C83.41,428.23 88.54,425.21 91.00,424.09 C93.46,422.96 94.45,422.83 95.95,422.35 C97.45,421.87 97.92,421.92 100.00,421.22 C102.08,420.52 105.60,419.31 108.40,418.14 C111.21,416.97 114.01,415.62 116.81,414.22 C119.61,412.82 122.93,410.72 125.21,409.74 C127.50,408.75 128.90,408.05 130.54,408.33 C132.17,408.61 133.69,411.02 135.02,411.42 C136.35,411.81 136.89,411.53 138.52,410.72 C140.16,409.90 142.37,407.84 144.82,406.51 C147.28,405.18 150.43,403.97 153.23,402.73 C156.03,401.49 159.30,399.63 161.63,399.09 C163.97,398.55 165.51,399.44 167.24,399.51 C168.96,399.58 170.49,399.78 172.00,399.51 C173.51,399.24 174.88,398.13 176.32,397.91 C177.76,397.70 179.44,396.76 180.64,398.20 C181.84,399.64 182.56,402.52 183.52,406.55 C184.48,410.58 185.56,418.43 186.40,422.39 C187.24,426.35 187.60,430.79 188.56,430.31 C189.52,429.83 190.84,423.95 192.16,419.51 C193.48,415.07 195.04,407.27 196.47,403.67 C197.91,400.07 198.87,399.23 200.79,397.91 C202.71,396.59 206.07,394.92 207.99,395.75 C209.91,396.59 210.99,400.91 212.31,402.95 C213.63,404.99 214.47,407.58 215.91,407.99 C217.35,408.40 219.15,405.69 220.95,405.40 C222.75,405.11 224.79,405.35 226.71,406.26 C228.63,407.18 230.55,408.30 232.47,410.87 C234.39,413.44 236.19,418.67 238.23,421.67 C240.27,424.67 243.26,427.43 244.70,428.87 C246.14,430.31 246.50,430.07 246.86,430.31" stroke="#e2d0bc" stroke-width="1.15"/>
<path d="M31.56,498.43 C32.39,497.66 34.80,495.80 36.57,493.79 C38.33,491.78 40.43,488.54 42.13,486.37 C43.84,484.21 45.71,481.87 46.77,480.80 C47.84,479.74 47.25,481.18 48.51,480.00 C49.77,478.82 51.82,475.53 54.35,473.70 C56.88,471.87 60.18,470.68 63.68,469.03 C67.19,467.37 72.44,464.84 75.36,463.77 C78.28,462.70 78.59,463.39 81.19,462.61 C83.80,461.83 88.54,459.88 91.00,459.11 C93.46,458.33 94.45,458.52 95.95,457.98 C97.45,457.44 97.92,456.75 100.00,455.89 C102.08,455.02 105.60,453.97 108.40,452.81 C111.21,451.64 114.01,450.10 116.81,448.88 C119.61,447.67 123.00,446.15 125.21,445.52 C127.43,444.89 128.72,444.12 130.12,445.10 C131.52,446.08 132.45,449.42 133.62,451.40 C134.79,453.39 135.72,456.82 137.12,457.01 C138.52,457.19 140.04,454.99 142.02,452.53 C144.01,450.06 146.69,444.77 149.03,442.23 C151.36,439.70 153.70,438.50 156.03,437.33 C158.37,436.16 160.37,435.11 163.04,435.23 C165.70,435.35 169.55,437.53 172.00,438.03 C174.45,438.53 176.20,437.47 177.76,438.23 C179.32,438.98 180.40,438.96 181.36,442.54 C182.32,446.13 182.80,453.97 183.52,459.72 C184.24,465.46 184.84,472.91 185.68,476.99 C186.52,481.07 187.48,484.19 188.56,484.19 C189.64,484.19 190.84,480.83 192.16,476.99 C193.48,473.15 194.80,466.19 196.47,461.16 C198.15,456.12 200.19,449.88 202.23,446.76 C204.27,443.64 206.91,442.56 208.71,442.44 C210.51,442.32 211.83,445.08 213.03,446.04 C214.23,447.00 214.59,448.08 215.91,448.20 C217.23,448.32 219.15,446.64 220.95,446.76 C222.75,446.88 224.79,447.48 226.71,448.92 C228.63,450.36 230.55,452.52 232.47,455.40 C234.39,458.28 236.19,462.84 238.23,466.19 C240.27,469.55 243.26,473.63 244.70,475.55 C246.14,477.47 246.50,477.35 246.86,477.71" stroke="#c4ccc2" stroke-width="1.15"/>
<path d="M31.56,500.85 C32.39,500.29 34.80,498.84 36.57,497.51 C38.33,496.18 40.43,494.57 42.13,492.87 C43.84,491.16 45.23,488.85 46.77,487.30 C48.32,485.75 49.40,484.61 51.41,483.59 C53.42,482.57 56.05,482.26 58.84,481.18 C61.62,480.09 65.33,478.33 68.11,477.09 C70.90,475.86 73.37,474.31 75.54,473.75 C77.70,473.20 78.94,474.06 81.10,473.75 C83.27,473.44 86.05,472.64 88.53,471.90 C91.00,471.15 94.04,469.91 95.95,469.30 C97.86,468.69 97.92,468.82 100.00,468.21 C102.08,467.61 105.60,466.58 108.40,465.69 C111.21,464.81 114.01,463.82 116.81,462.89 C119.61,461.96 123.00,460.60 125.21,460.09 C127.43,459.58 128.72,458.69 130.12,459.81 C131.52,460.93 132.45,464.71 133.62,466.81 C134.79,468.91 135.72,472.07 137.12,472.42 C138.52,472.77 140.04,470.90 142.02,468.91 C144.01,466.93 146.69,462.73 149.03,460.51 C151.36,458.29 153.46,456.89 156.03,455.61 C158.60,454.32 161.77,452.85 164.44,452.81 C167.10,452.76 169.78,454.89 172.00,455.33 C174.22,455.76 176.32,454.67 177.76,455.40 C179.20,456.13 179.80,456.60 180.64,459.72 C181.48,462.84 182.03,469.07 182.80,474.11 C183.57,479.15 184.36,486.40 185.25,489.95 C186.13,493.50 186.97,495.42 188.12,495.42 C189.28,495.42 190.52,493.26 192.16,489.95 C193.79,486.64 195.99,479.75 197.91,475.55 C199.83,471.35 201.71,467.20 203.67,464.75 C205.64,462.31 208.04,461.11 209.72,460.87 C211.40,460.63 212.65,462.67 213.75,463.32 C214.85,463.96 215.02,464.63 216.34,464.75 C217.66,464.87 219.94,463.63 221.67,464.04 C223.40,464.44 224.91,465.76 226.71,467.20 C228.51,468.64 230.55,470.56 232.47,472.67 C234.39,474.78 236.19,477.47 238.23,479.87 C240.27,482.27 243.26,485.58 244.70,487.07 C246.14,488.56 246.50,488.51 246.86,488.80" stroke="#35b2a6" stroke-width="1.3"/>
<path d="M31.56,501.59 C32.39,501.06 34.80,499.73 36.57,498.43 C38.33,497.13 40.43,495.43 42.13,493.79 C43.84,492.15 45.23,490.08 46.77,488.60 C48.32,487.11 49.40,485.88 51.41,484.89 C53.42,483.90 56.05,483.71 58.84,482.66 C61.62,481.61 65.33,479.81 68.11,478.58 C70.90,477.34 73.37,475.79 75.54,475.24 C77.70,474.68 78.94,475.55 81.10,475.24 C83.27,474.93 86.05,474.09 88.53,473.38 C91.00,472.67 94.04,471.48 95.95,470.97 C97.86,470.46 97.92,470.82 100.00,470.32 C102.08,469.81 105.60,468.80 108.40,467.93 C111.21,467.07 114.01,466.02 116.81,465.13 C119.61,464.25 123.00,462.84 125.21,462.61 C127.43,462.38 128.72,462.33 130.12,463.73 C131.52,465.13 132.38,468.75 133.62,471.02 C134.86,473.28 136.14,476.67 137.54,477.32 C138.94,477.97 140.11,476.69 142.02,474.94 C143.94,473.19 146.69,468.98 149.03,466.81 C151.36,464.64 153.46,463.26 156.03,461.91 C158.60,460.56 161.77,458.85 164.44,458.69 C167.10,458.53 169.78,460.33 172.00,460.93 C174.22,461.53 176.32,461.43 177.76,462.31 C179.20,463.18 179.80,463.27 180.64,466.19 C181.48,469.12 182.03,475.43 182.80,479.87 C183.57,484.31 184.41,490.00 185.25,492.83 C186.08,495.66 186.68,496.86 187.84,496.86 C188.99,496.86 190.48,495.42 192.16,492.83 C193.84,490.24 195.99,484.67 197.91,481.31 C199.83,477.95 201.71,474.78 203.67,472.67 C205.64,470.56 208.04,469.00 209.72,468.64 C211.40,468.28 212.65,470.03 213.75,470.51 C214.85,470.99 215.02,471.45 216.34,471.52 C217.66,471.59 219.94,470.51 221.67,470.95 C223.40,471.38 224.91,472.75 226.71,474.11 C228.51,475.48 230.55,477.47 232.47,479.15 C234.39,480.83 236.19,482.27 238.23,484.19 C240.27,486.11 243.26,489.35 244.70,490.67 C246.14,491.99 246.50,491.87 246.86,492.11" stroke="#2f88a3" stroke-width="1.3"/>
<path d="M31.56,499.73 C32.39,499.36 34.80,498.43 36.57,497.51 C38.33,496.58 40.43,495.46 42.13,494.16 C43.84,492.87 45.23,490.95 46.77,489.71 C48.32,488.47 49.40,487.55 51.41,486.74 C53.42,485.94 56.05,485.63 58.84,484.89 C61.62,484.14 65.33,483.03 68.11,482.29 C70.90,481.55 73.37,480.62 75.54,480.43 C77.70,480.25 78.94,481.18 81.10,481.18 C83.27,481.18 86.05,480.80 88.53,480.43 C91.00,480.06 94.04,479.23 95.95,478.95 C97.86,478.66 97.92,478.83 100.00,478.72 C102.08,478.61 105.60,478.65 108.40,478.30 C111.21,477.95 114.01,477.18 116.81,476.62 C119.61,476.06 123.00,474.98 125.21,474.94 C127.43,474.89 128.72,474.89 130.12,476.34 C131.52,477.79 132.33,481.52 133.62,483.62 C134.90,485.72 136.42,488.36 137.82,488.95 C139.22,489.53 140.16,488.60 142.02,487.12 C143.89,485.65 146.69,481.87 149.03,480.12 C151.36,478.37 153.70,477.55 156.03,476.62 C158.37,475.68 160.37,474.40 163.04,474.52 C165.70,474.63 169.55,476.71 172.00,477.32 C174.45,477.92 176.32,477.36 177.76,478.14 C179.20,478.93 179.80,479.82 180.64,482.03 C181.48,484.24 182.03,488.27 182.80,491.39 C183.57,494.51 184.41,498.78 185.25,500.75 C186.08,502.71 186.44,503.31 187.84,503.19 C189.23,503.07 191.44,501.99 193.60,500.03 C195.75,498.06 198.63,493.79 200.79,491.39 C202.95,488.99 204.75,486.95 206.55,485.63 C208.35,484.31 209.67,483.66 211.59,483.47 C213.51,483.28 216.03,483.93 218.07,484.48 C220.11,485.03 221.43,485.63 223.83,486.78 C226.23,487.93 230.07,490.02 232.47,491.39 C234.87,492.76 236.19,493.67 238.23,494.99 C240.27,496.31 243.26,498.42 244.70,499.31 C246.14,500.20 246.50,500.15 246.86,500.32" stroke="#3b679b" stroke-width="1.3"/>
</g>
<rect x="31.6" y="372.5" width="213.70000000000002" height="142.39999999999998" fill="none" stroke="#2a2a2a" stroke-width="1"/>
<line x1="31.6" y1="514.90" x2="34.800000000000004" y2="514.90" stroke="#2a2a2a" stroke-width="1"/>
<text x="28.0" y="517.70" text-anchor="end" class="tk">0.0</text>
<line x1="31.6" y1="486.42" x2="34.800000000000004" y2="486.42" stroke="#2a2a2a" stroke-width="1"/>
<text x="28.0" y="489.22" text-anchor="end" class="tk">0.1</text>
<line x1="31.6" y1="457.94" x2="34.800000000000004" y2="457.94" stroke="#2a2a2a" stroke-width="1"/>
<text x="28.0" y="460.74" text-anchor="end" class="tk">0.2</text>
<line x1="31.6" y1="429.46" x2="34.800000000000004" y2="429.46" stroke="#2a2a2a" stroke-width="1"/>
<text x="28.0" y="432.26" text-anchor="end" class="tk">0.3</text>
<line x1="31.6" y1="400.98" x2="34.800000000000004" y2="400.98" stroke="#2a2a2a" stroke-width="1"/>
<text x="28.0" y="403.78" text-anchor="end" class="tk">0.4</text>
<line x1="31.6" y1="372.50" x2="34.800000000000004" y2="372.50" stroke="#2a2a2a" stroke-width="1"/>
<text x="28.0" y="375.30" text-anchor="end" class="tk">0.5</text>
<line x1="41.78" y1="514.9" x2="41.78" y2="512.1" stroke="#2a2a2a" stroke-width="1"/>
<text x="41.78" y="524.90" text-anchor="middle" class="tk">500</text>
<line x1="67.22" y1="514.9" x2="67.22" y2="513.3" stroke="#2a2a2a" stroke-width="1"/>
<line x1="92.66" y1="514.9" x2="92.66" y2="512.1" stroke="#2a2a2a" stroke-width="1"/>
<text x="92.66" y="524.90" text-anchor="middle" class="tk">1000</text>
<line x1="118.10" y1="514.9" x2="118.10" y2="513.3" stroke="#2a2a2a" stroke-width="1"/>
<line x1="143.54" y1="514.9" x2="143.54" y2="512.1" stroke="#2a2a2a" stroke-width="1"/>
<text x="143.54" y="524.90" text-anchor="middle" class="tk">1500</text>
<line x1="168.98" y1="514.9" x2="168.98" y2="513.3" stroke="#2a2a2a" stroke-width="1"/>
<line x1="194.42" y1="514.9" x2="194.42" y2="512.1" stroke="#2a2a2a" stroke-width="1"/>
<text x="194.42" y="524.90" text-anchor="middle" class="tk">2000</text>
<line x1="219.86" y1="514.9" x2="219.86" y2="513.3" stroke="#2a2a2a" stroke-width="1"/>
<line x1="245.30" y1="514.9" x2="245.30" y2="512.1" stroke="#2a2a2a" stroke-width="1"/>
<text x="245.30" y="524.90" text-anchor="middle" class="tk">2500</text>
<text x="138.75" y="534.00" text-anchor="middle" class="xl">Wavelength (nm)</text>
<text x="140.75" y="542.90" text-anchor="middle" class="cp">(e) 02-01</text>
<text x="12.60" y="434.70" text-anchor="middle" class="lb" transform="rotate(-90 12.60 434.70)">Reflectance</text>
<line x1="38.30" y1="378.80" x2="54.90" y2="378.80" stroke="#3b679b" stroke-width="1.3"/>
<text x="56.40" y="381.30" class="lg">29.50%</text>
<line x1="38.30" y1="387.80" x2="54.90" y2="387.80" stroke="#2f88a3" stroke-width="1.3"/>
<text x="56.40" y="390.30" class="lg">17.56%</text>
<line x1="38.30" y1="396.80" x2="54.90" y2="396.80" stroke="#35b2a6" stroke-width="1.3"/>
<text x="56.40" y="399.30" class="lg">12.15%</text>
<line x1="38.30" y1="405.80" x2="54.90" y2="405.80" stroke="#c4ccc2" stroke-width="1.3"/>
<text x="56.40" y="408.30" class="lg">7.48%</text>
<line x1="38.30" y1="414.80" x2="54.90" y2="414.80" stroke="#e2d0bc" stroke-width="1.3"/>
<text x="56.40" y="417.30" class="lg">dry soil</text>
<clipPath id="cp5"><rect x="286.0" y="372.5" width="213.7" height="142.39999999999998"/></clipPath>
<g clip-path="url(#cp5)" fill="none" stroke-width="1.3" stroke-linejoin="round">
<path d="M286.83,479.47 C287.86,477.73 291.20,472.32 293.00,469.03 C294.81,465.73 295.73,463.29 297.67,459.69 C299.62,456.09 302.15,450.06 304.68,447.43 C307.21,444.81 310.51,444.90 312.85,443.93 C315.18,442.96 315.96,442.96 318.68,441.60 C321.41,440.23 326.27,436.63 329.19,435.76 C332.11,434.88 333.39,436.83 336.19,436.34 C339.00,435.86 343.40,433.63 346.00,432.84 C348.60,432.05 349.07,432.51 351.80,431.63 C354.54,430.74 359.24,429.03 362.40,427.53 C365.57,426.02 368.01,424.26 370.81,422.62 C373.61,420.99 376.76,419.31 379.21,417.72 C381.67,416.13 383.88,413.63 385.52,413.10 C387.15,412.56 387.50,415.01 389.02,414.50 C390.54,413.98 392.29,411.81 394.62,410.02 C396.96,408.22 399.99,405.70 403.03,403.71 C406.06,401.73 409.80,399.67 412.83,398.11 C415.87,396.54 419.04,395.08 421.24,394.33 C423.43,393.57 424.49,393.91 426.00,393.60 C427.51,393.28 428.76,392.73 430.32,392.44 C431.88,392.16 434.04,391.08 435.36,391.87 C436.68,392.66 437.11,395.18 438.24,397.19 C439.37,399.21 440.68,403.84 442.12,403.96 C443.56,404.08 445.24,400.24 446.88,397.91 C448.51,395.59 450.23,392.04 451.91,390.00 C453.59,387.96 455.08,386.88 456.95,385.68 C458.82,384.48 461.58,382.68 463.14,382.80 C464.70,382.92 465.18,384.84 466.31,386.40 C467.44,387.96 468.47,391.15 469.91,392.16 C471.35,393.16 473.15,391.92 474.95,392.44 C476.75,392.97 478.79,394.53 480.71,395.32 C482.63,396.11 484.55,396.33 486.47,397.19 C488.39,398.06 490.19,399.14 492.23,400.51 C494.27,401.87 497.26,404.39 498.70,405.40 C500.14,406.41 500.50,406.36 500.86,406.55" stroke="#e2d0bc" stroke-width="1.15"/>
<path d="M286.48,494.16 C287.16,493.18 288.96,490.45 290.57,488.23 C292.18,486.00 294.95,482.18 296.13,480.80 C297.32,479.43 295.86,482.06 297.67,480.00 C299.49,477.94 304.09,470.76 307.01,468.44 C309.93,466.13 311.49,467.67 315.18,466.11 C318.88,464.55 325.69,460.37 329.19,459.11 C332.69,457.84 333.39,459.30 336.19,458.52 C339.00,457.74 343.40,455.30 346.00,454.44 C348.60,453.57 349.07,454.56 351.80,453.34 C354.54,452.12 359.24,448.87 362.40,447.14 C365.57,445.40 368.01,444.26 370.81,442.93 C373.61,441.60 376.69,440.39 379.21,439.15 C381.74,437.91 384.19,435.51 385.94,435.51 C387.69,435.51 388.27,439.08 389.72,439.15 C391.17,439.22 392.40,437.98 394.62,435.93 C396.84,433.88 399.99,429.46 403.03,426.82 C406.06,424.19 409.80,421.74 412.83,420.10 C415.87,418.47 419.04,417.55 421.24,417.02 C423.43,416.49 424.25,417.03 426.00,416.92 C427.75,416.81 430.20,416.27 431.76,416.34 C433.32,416.41 434.40,415.14 435.36,417.35 C436.32,419.56 436.92,425.65 437.52,429.59 C438.12,433.53 438.12,437.37 438.96,441.00 C439.80,444.63 441.36,451.13 442.56,451.37 C443.76,451.61 444.84,445.59 446.16,442.44 C447.48,439.29 448.80,436.05 450.47,432.47 C452.15,428.89 454.03,424.02 456.23,420.95 C458.44,417.88 461.80,414.64 463.72,414.04 C465.64,413.44 466.60,416.39 467.75,417.35 C468.90,418.31 469.31,419.32 470.63,419.80 C471.95,420.28 473.99,419.56 475.67,420.23 C477.35,420.90 478.91,422.39 480.71,423.83 C482.51,425.27 484.55,426.95 486.47,428.87 C488.39,430.79 490.19,433.07 492.23,435.35 C494.27,437.63 497.26,440.99 498.70,442.54 C500.14,444.10 500.50,444.34 500.86,444.70" stroke="#c4ccc2" stroke-width="1.15"/>
<path d="M286.48,498.43 C287.16,497.51 288.96,494.72 290.57,492.87 C292.18,491.01 294.43,489.46 296.13,487.30 C297.84,485.13 299.54,481.09 300.77,479.88 C302.00,478.66 302.28,480.74 303.51,480.00 C304.74,479.26 305.84,476.69 308.18,475.45 C310.51,474.20 314.02,473.64 317.52,472.53 C321.02,471.42 326.08,469.38 329.19,468.79 C332.30,468.21 333.39,469.47 336.19,469.03 C339.00,468.58 343.40,466.78 346.00,466.11 C348.60,465.44 350.47,465.26 351.80,465.03 C353.14,464.80 352.23,465.30 354.00,464.71 C355.77,464.12 359.60,462.66 362.40,461.49 C365.21,460.32 368.01,458.92 370.81,457.71 C373.61,456.49 376.76,455.07 379.21,454.21 C381.67,453.34 384.00,452.18 385.52,452.53 C387.04,452.88 387.39,455.14 388.32,456.31 C389.25,457.47 389.95,459.41 391.12,459.53 C392.29,459.65 393.57,458.60 395.32,457.01 C397.07,455.42 399.29,452.34 401.63,450.00 C403.96,447.67 407.46,444.34 409.33,443.00 C411.20,441.66 410.85,442.55 412.83,441.95 C414.82,441.36 418.08,439.69 421.24,439.43 C424.39,439.17 429.41,439.87 431.76,440.39 C434.11,440.90 434.40,440.04 435.36,442.54 C436.32,445.05 436.80,450.62 437.52,455.40 C438.24,460.18 438.91,467.87 439.68,471.23 C440.44,474.59 441.04,475.55 442.12,475.55 C443.20,475.55 444.52,474.11 446.16,471.23 C447.79,468.35 449.99,462.24 451.91,458.28 C453.83,454.32 455.71,450.17 457.67,447.48 C459.64,444.79 462.04,442.75 463.72,442.15 C465.40,441.55 466.65,443.35 467.75,443.88 C468.85,444.41 469.02,445.08 470.34,445.32 C471.66,445.56 473.94,444.60 475.67,445.32 C477.40,446.04 478.91,447.96 480.71,449.64 C482.51,451.32 484.55,453.60 486.47,455.40 C488.39,457.20 490.19,458.52 492.23,460.44 C494.27,462.36 497.26,465.55 498.70,466.91 C500.14,468.28 500.50,468.35 500.86,468.64" stroke="#35b2a6" stroke-width="1.3"/>
<path d="M286.48,498.99 C287.16,498.12 288.96,495.59 290.57,493.79 C292.18,492.00 294.43,490.24 296.13,488.23 C297.84,486.22 299.35,483.10 300.77,481.73 C302.20,480.36 303.25,480.76 304.68,480.00 C306.11,479.24 307.21,478.05 309.35,477.20 C311.49,476.34 314.21,475.84 317.52,474.86 C320.82,473.89 326.08,471.79 329.19,471.36 C332.30,470.93 333.39,472.59 336.19,472.30 C339.00,472.00 343.40,470.30 346.00,469.61 C348.60,468.93 350.47,468.42 351.80,468.19 C353.14,467.95 352.23,468.72 354.00,468.21 C355.77,467.71 359.60,466.30 362.40,465.13 C365.21,463.96 368.01,462.38 370.81,461.21 C373.61,460.04 376.88,458.88 379.21,458.13 C381.55,457.38 383.30,456.10 384.82,456.73 C386.33,457.36 387.20,460.51 388.32,461.91 C389.44,463.31 390.26,465.13 391.54,465.13 C392.82,465.13 394.11,463.73 396.02,461.91 C397.94,460.09 400.69,456.24 403.03,454.21 C405.36,452.18 407.93,450.97 410.03,449.72 C412.13,448.48 412.97,447.09 415.63,446.72 C418.30,446.34 423.31,447.35 426.00,447.48 C428.69,447.61 430.20,447.12 431.76,447.48 C433.32,447.84 434.40,447.12 435.36,449.64 C436.32,452.16 436.80,457.80 437.52,462.60 C438.24,467.39 438.96,475.36 439.68,478.43 C440.40,481.50 440.76,481.50 441.84,481.02 C442.92,480.54 444.48,478.38 446.16,475.55 C447.84,472.72 449.99,467.39 451.91,464.04 C453.83,460.68 455.71,457.68 457.67,455.40 C459.64,453.12 462.04,450.84 463.72,450.36 C465.40,449.88 466.65,452.04 467.75,452.52 C468.85,453.00 469.02,453.05 470.34,453.24 C471.66,453.43 473.94,452.95 475.67,453.67 C477.40,454.39 478.91,456.19 480.71,457.56 C482.51,458.92 484.55,460.32 486.47,461.88 C488.39,463.44 490.19,464.99 492.23,466.91 C494.27,468.83 497.26,472.07 498.70,473.39 C500.14,474.71 500.50,474.59 500.86,474.83" stroke="#2f88a3" stroke-width="1.3"/>
<path d="M286.48,495.65 C287.16,495.28 288.96,494.29 290.57,493.42 C292.18,492.56 294.43,491.47 296.13,490.45 C297.84,489.43 299.23,488.23 300.77,487.30 C302.32,486.37 303.40,485.20 305.41,484.89 C307.42,484.58 310.05,485.51 312.84,485.44 C315.62,485.38 319.33,484.92 322.11,484.52 C324.90,484.11 327.06,483.09 329.54,483.03 C332.01,482.97 334.48,484.05 336.96,484.14 C339.43,484.24 341.91,483.84 344.38,483.59 C346.86,483.34 350.20,482.84 351.80,482.66 C353.41,482.48 352.23,482.69 354.00,482.50 C355.77,482.31 359.60,481.99 362.40,481.52 C365.21,481.05 367.77,480.40 370.81,479.70 C373.84,479.00 378.28,477.48 380.61,477.32 C382.95,477.16 383.53,477.44 384.82,478.72 C386.10,480.00 387.15,483.39 388.32,485.02 C389.49,486.66 390.54,488.18 391.82,488.53 C393.11,488.88 394.16,488.41 396.02,487.12 C397.89,485.84 400.69,482.57 403.03,480.82 C405.36,479.07 407.70,477.67 410.03,476.62 C412.37,475.57 414.37,474.50 417.04,474.52 C419.70,474.53 423.55,476.29 426.00,476.70 C428.45,477.12 430.32,476.46 431.76,476.99 C433.20,477.52 433.80,477.71 434.64,479.87 C435.48,482.03 436.03,486.95 436.80,489.95 C437.57,492.95 438.41,496.19 439.25,497.87 C440.08,499.55 440.44,500.15 441.84,500.03 C443.23,499.91 445.44,498.95 447.60,497.15 C449.75,495.35 452.63,491.39 454.79,489.23 C456.95,487.07 458.75,485.32 460.55,484.19 C462.35,483.06 463.67,482.58 465.59,482.46 C467.51,482.34 470.03,482.94 472.07,483.47 C474.11,484.00 475.43,484.43 477.83,485.63 C480.23,486.83 484.07,489.23 486.47,490.67 C488.87,492.11 490.19,493.00 492.23,494.27 C494.27,495.54 497.26,497.46 498.70,498.30 C500.14,499.14 500.50,499.14 500.86,499.31" stroke="#3b679b" stroke-width="1.3"/>
</g>
<rect x="286.0" y="372.5" width="213.7" height="142.39999999999998" fill="none" stroke="#2a2a2a" stroke-width="1"/>
<line x1="286.0" y1="514.90" x2="289.2" y2="514.90" stroke="#2a2a2a" stroke-width="1"/>
<text x="282.4" y="517.70" text-anchor="end" class="tk">0.0</text>
<line x1="286.0" y1="486.42" x2="289.2" y2="486.42" stroke="#2a2a2a" stroke-width="1"/>
<text x="282.4" y="489.22" text-anchor="end" class="tk">0.1</text>
<line x1="286.0" y1="457.94" x2="289.2" y2="457.94" stroke="#2a2a2a" stroke-width="1"/>
<text x="282.4" y="460.74" text-anchor="end" class="tk">0.2</text>
<line x1="286.0" y1="429.46" x2="289.2" y2="429.46" stroke="#2a2a2a" stroke-width="1"/>
<text x="282.4" y="432.26" text-anchor="end" class="tk">0.3</text>
<line x1="286.0" y1="400.98" x2="289.2" y2="400.98" stroke="#2a2a2a" stroke-width="1"/>
<text x="282.4" y="403.78" text-anchor="end" class="tk">0.4</text>
<line x1="286.0" y1="372.50" x2="289.2" y2="372.50" stroke="#2a2a2a" stroke-width="1"/>
<text x="282.4" y="375.30" text-anchor="end" class="tk">0.5</text>
<line x1="296.18" y1="514.9" x2="296.18" y2="512.1" stroke="#2a2a2a" stroke-width="1"/>
<text x="296.18" y="524.90" text-anchor="middle" class="tk">500</text>
<line x1="321.62" y1="514.9" x2="321.62" y2="513.3" stroke="#2a2a2a" stroke-width="1"/>
<line x1="347.06" y1="514.9" x2="347.06" y2="512.1" stroke="#2a2a2a" stroke-width="1"/>
<text x="347.06" y="524.90" text-anchor="middle" class="tk">1000</text>
<line x1="372.50" y1="514.9" x2="372.50" y2="513.3" stroke="#2a2a2a" stroke-width="1"/>
<line x1="397.94" y1="514.9" x2="397.94" y2="512.1" stroke="#2a2a2a" stroke-width="1"/>
<text x="397.94" y="524.90" text-anchor="middle" class="tk">1500</text>
<line x1="423.38" y1="514.9" x2="423.38" y2="513.3" stroke="#2a2a2a" stroke-width="1"/>
<line x1="448.82" y1="514.9" x2="448.82" y2="512.1" stroke="#2a2a2a" stroke-width="1"/>
<text x="448.82" y="524.90" text-anchor="middle" class="tk">2000</text>
<line x1="474.26" y1="514.9" x2="474.26" y2="513.3" stroke="#2a2a2a" stroke-width="1"/>
<line x1="499.70" y1="514.9" x2="499.70" y2="512.1" stroke="#2a2a2a" stroke-width="1"/>
<text x="499.70" y="524.90" text-anchor="middle" class="tk">2500</text>
<text x="393.15" y="534.00" text-anchor="middle" class="xl">Wavelength (nm)</text>
<text x="395.15" y="542.90" text-anchor="middle" class="cp">(f) 02-15</text>
<text x="267.00" y="434.70" text-anchor="middle" class="lb" transform="rotate(-90 267.00 434.70)">Reflectance</text>
<line x1="293.10" y1="378.80" x2="309.70" y2="378.80" stroke="#3b679b" stroke-width="1.3"/>
<text x="311.20" y="381.30" class="lg">28.04%</text>
<line x1="293.10" y1="387.80" x2="309.70" y2="387.80" stroke="#2f88a3" stroke-width="1.3"/>
<text x="311.20" y="390.30" class="lg">15.88%</text>
<line x1="293.10" y1="396.80" x2="309.70" y2="396.80" stroke="#35b2a6" stroke-width="1.3"/>
<text x="311.20" y="399.30" class="lg">9.63%</text>
<line x1="293.10" y1="405.80" x2="309.70" y2="405.80" stroke="#c4ccc2" stroke-width="1.3"/>
<text x="311.20" y="408.30" class="lg">4.91%</text>
<line x1="293.10" y1="414.80" x2="309.70" y2="414.80" stroke="#e2d0bc" stroke-width="1.3"/>
<text x="311.20" y="417.30" class="lg">dry soil</text>
</svg>
</body></html>
